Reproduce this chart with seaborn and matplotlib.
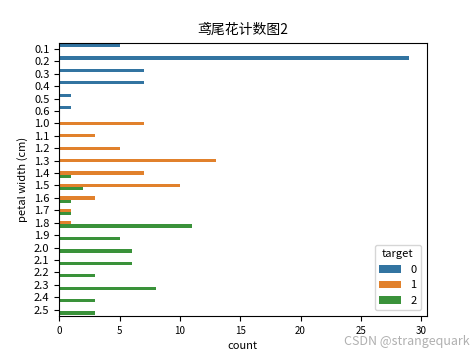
import matplotlib
matplotlib.use("Agg")
import matplotlib.pyplot as plt
import seaborn as sns
import pandas as pd

plt.rcParams['font.family'] = ['Noto Sans CJK SC', 'DejaVu Sans']
plt.rcParams['axes.unicode_minus'] = False

widths = ["0.1", "0.2", "0.3", "0.4", "0.5", "0.6", "1.0", "1.1", "1.2", "1.3",
          "1.4", "1.5", "1.6", "1.7", "1.8", "1.9", "2.0", "2.1", "2.2", "2.3",
          "2.4", "2.5"]
targets = ["0", "1", "2"]
counts_0 = {"0.1": 5, "0.2": 29, "0.3": 7, "0.4": 7, "0.5": 1, "0.6": 1}
counts_1 = {"1.0": 7, "1.1": 3, "1.2": 5, "1.3": 13, "1.4": 7, "1.5": 10,
            "1.6": 3, "1.7": 1, "1.8": 1}
counts_2 = {"1.4": 1, "1.5": 2, "1.6": 1, "1.7": 1, "1.8": 11, "1.9": 5,
            "2.0": 6, "2.1": 6, "2.2": 3, "2.3": 8, "2.4": 3, "2.5": 3}

rows = []
for t, cd in zip(targets, [counts_0, counts_1, counts_2]):
    for w, c in cd.items():
        rows.extend([{"petal width (cm)": w, "target": t}] * c)
df = pd.DataFrame(rows)

fig, ax = plt.subplots(figsize=(4.74, 3.55), dpi=100)
sns.countplot(data=df, y="petal width (cm)", hue="target", order=widths,
              hue_order=targets, ax=ax)
ax.set_title("鸢尾花计数图2", fontsize=10)
ax.set_xlabel("count", fontsize=8)
ax.set_ylabel("petal width (cm)", fontsize=8)
ax.tick_params(labelsize=8)
ax.tick_params(axis='x', labelsize=7)
leg = ax.legend(title="target", loc="lower right", fontsize=8, title_fontsize=8)
fig.text(0.99, 0.02, "CSDN @strangequark", ha="right", va="bottom",
         color="#b0b0b0", fontsize=9)
fig.savefig("out.png", dpi=100)
